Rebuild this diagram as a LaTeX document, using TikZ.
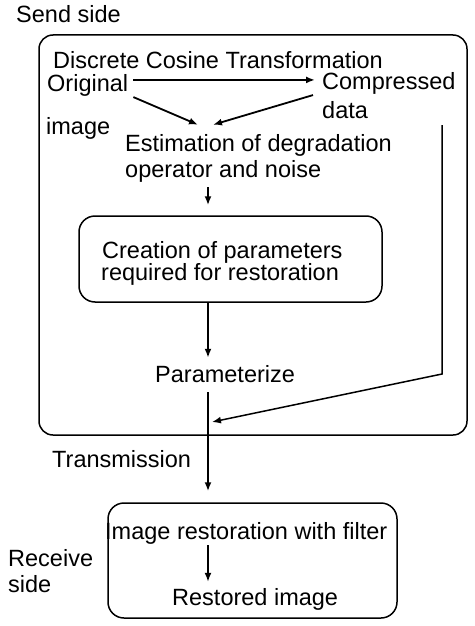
\documentclass[tikz,border=0pt]{standalone}
\usepackage{fontspec}
\setmainfont{Liberation Sans}
\usetikzlibrary{arrows.meta}
\begin{document}
\begin{tikzpicture}[x=1pt,y=-1pt,
        txt/.style={anchor=base west,inner sep=0pt,font=\fontsize{23.5}{26}\selectfont},
        box/.style={draw,line width=1.5pt,rounded corners=14pt,inner sep=0pt},
        arr/.style={-{Latex[length=9pt,width=7pt]},line width=1.8pt}]
        \useasboundingbox (0,0) rectangle (474,626);
        \node[box,minimum width=428pt,minimum height=400pt] (sendbox) at (253,235) {};
        \node[box,rounded corners=16pt,minimum width=303pt,minimum height=86pt] (param) at (230.5,259) {};
        \node[box,rounded corners=16pt,minimum width=289pt,minimum height=115pt] (recvbox) at (252.5,560.5) {};
        \node[txt] (sendlbl) at (16,23) {Send side};
        \node[txt] (dct) at (53,68) {Discrete Cosine Transformation};
        \node[txt] (orig) at (47,92) {Original};
        \node[txt] (img) at (46,134) {image};
        \node[txt] (comp) at (322,89) {Compressed};
        \node[txt] (data) at (322,118) {data};
        \node[txt] (est) at (125,151) {Estimation of degradation};
        \node[txt] (estb) at (125,177) {operator and noise};
        \node[txt] (cre) at (102,258) {Creation of parameters};
        \node[txt] (creb) at (101,280) {required for restoration};
        \node[txt] (parm) at (155,382) {Parameterize};
        \node[txt] (trans) at (52,467) {Transmission};
        \node[txt] (filt) at (105,539) {Image restoration with filter};
        \node[txt] (rest) at (172,605) {Restored image};
        \node[txt] (recv) at (8,566) {Receive};
        \node[txt] (recvb) at (8,592) {side};
        \coordinate (spine) at (208,0);
        \coordinate (dtop) at (442,125);
        \coordinate (bend) at (442,374);
        \coordinate (join) at (212,422);
        \draw[arr] ([xshift=5pt,yshift=6pt]orig.east) -- ([xshift=-7pt,yshift=3pt]comp.west);
        \draw[arr] ([xshift=5pt]orig.south east) -- ([xshift=73pt,yshift=9pt]est.north west);
        \draw[arr] ([xshift=-9pt,yshift=-1pt]comp.south west) -- ([xshift=88pt,yshift=9pt]est.north west);
        \draw[arr] ([yshift=-5pt]estb.south -| spine) -- ([yshift=10pt]param.north -| spine);
        \draw[arr] (param.south -| spine) -- ([yshift=7pt]parm.north -| spine);
        \draw[arr] ([yshift=-10pt]parm.south -| spine) -- ([yshift=11pt]recvbox.north -| spine);
        \draw[arr,line width=1.5pt] (dtop) -- (bend) -- (join);
        \draw[arr,line width=1.5pt] ([yshift=-1pt]filt.south -| spine) -- ([yshift=6pt]rest.north -| spine);
\end{tikzpicture}
\end{document}
